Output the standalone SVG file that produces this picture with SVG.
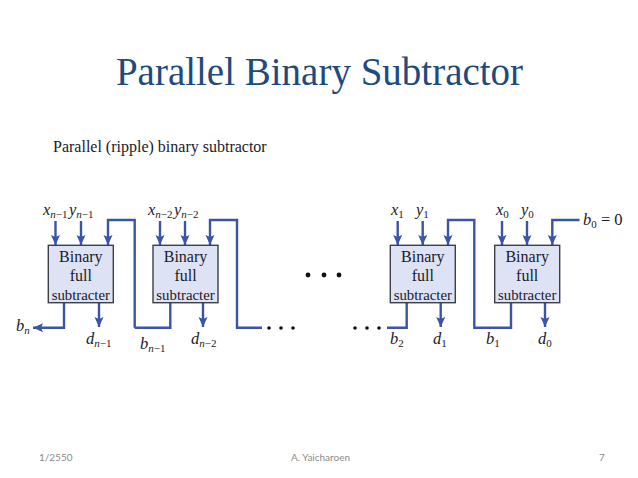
<svg xmlns="http://www.w3.org/2000/svg" width="638" height="478" viewBox="0 0 638 478">
<style>
.t{font-family:"Liberation Serif","Times New Roman",serif;fill:#1a1a2a}
.box rect{fill:#dde3f5;stroke:#3a3f4a;stroke-width:1.4}
.box text{font-size:16px;text-anchor:middle}
.box text.n{font-size:14.8px}
.w{fill:none;stroke:#3a55a8;stroke-width:2.4}
.a{marker-end:url(#ah)}
.i{font-style:italic;font-size:16.5px}
.s{font-size:11px;font-style:italic}
.u{font-size:11px;font-style:normal}
.f{font-family:"Lato","Open Sans",sans-serif;font-size:10px;fill:#8b8b8b}
</style>
<defs>
<marker id="ah" markerUnits="userSpaceOnUse" markerWidth="11" markerHeight="10" refX="10" refY="4.5" orient="auto"><path d="M0 0L10 4.5L0 9L2 4.5Z" fill="#3a55a8"/></marker>
</defs>
<rect width="638" height="478" fill="#fff"/>
<text id="title" x="319.5" y="85" text-anchor="middle" font-family="'Liberation Serif',serif" font-size="39" fill="#1f4a7d">Parallel Binary Subtractor</text>
<text id="subtitle" class="t" x="53" y="152" font-size="16" fill="#111">Parallel (ripple) binary subtractor</text>
<g id="connectors">
<path class="w a" d="M55.5 221V245"/><path class="w a" d="M81 221V245"/>
<path class="w a" d="M134.7 327.7V220H108V245"/>
<path class="w" d="M134.7 327.7H170.3V303"/>
<path class="w a" d="M64 303V327.7H33"/><path class="w a" d="M99 303V327"/>
<path class="w a" d="M160 221V245"/><path class="w a" d="M185 221V245"/>
<path class="w a" d="M262 327.7H237V220H210V245"/><path class="w a" d="M203 303V327"/>
<path class="w a" d="M397.7 221V245"/><path class="w a" d="M422.7 221V245"/>
<path class="w" d="M387 327.7H406.7V303"/><path class="w a" d="M440.7 303V327"/>
<path class="w a" d="M511 303V327.7H474.3V220H448V245"/>
<path class="w a" d="M502 221V245"/><path class="w a" d="M527 221V245"/>
<path class="w a" d="M579.5 220H552.3V245"/><path class="w a" d="M545 303V327"/>
</g>
<g id="node1" class="box t"><rect x="48.3" y="245.3" width="65" height="57.4"/><text x="80.8" y="262">Binary</text><text x="80.8" y="280.5">full</text><text class="n" x="80.8" y="299.5">subtracter</text></g>
<g id="node2" class="box t"><rect x="153" y="245.3" width="65" height="57.4"/><text x="185.5" y="262">Binary</text><text x="185.5" y="280.5">full</text><text class="n" x="185.5" y="299.5">subtracter</text></g>
<g id="node3" class="box t"><rect x="390.3" y="245.3" width="65" height="57.4"/><text x="422.8" y="262">Binary</text><text x="422.8" y="280.5">full</text><text class="n" x="422.8" y="299.5">subtracter</text></g>
<g id="node4" class="box t"><rect x="494.7" y="245.3" width="65" height="57.4"/><text x="527.2" y="262">Binary</text><text x="527.2" y="280.5">full</text><text class="n" x="527.2" y="299.5">subtracter</text></g>
<g id="dots" fill="#111"><circle cx="269" cy="328" r="1.8"/><circle cx="281" cy="328" r="1.8"/><circle cx="293" cy="328" r="1.8"/><circle cx="355" cy="328" r="1.8"/><circle cx="367" cy="328" r="1.8"/><circle cx="379" cy="328" r="1.8"/><circle cx="308" cy="275" r="2.4"/><circle cx="324" cy="275" r="2.4"/><circle cx="339" cy="275" r="2.4"/></g>
<g id="labels" class="t">
<text x="43" y="215" class="i">x<tspan class="s" dy="3">n</tspan><tspan class="u">−1</tspan></text>
<text x="69" y="215" class="i">y<tspan class="s" dy="3">n</tspan><tspan class="u">−1</tspan></text>
<text x="148" y="215" class="i">x<tspan class="s" dy="3">n</tspan><tspan class="u">−2</tspan></text>
<text x="174" y="215" class="i">y<tspan class="s" dy="3">n</tspan><tspan class="u">−2</tspan></text>
<text x="391" y="215" class="i">x<tspan class="u" dy="3">1</tspan></text>
<text x="416" y="215" class="i">y<tspan class="u" dy="3">1</tspan></text>
<text x="496" y="215" class="i">x<tspan class="u" dy="3">0</tspan></text>
<text x="521" y="215" class="i">y<tspan class="u" dy="3">0</tspan></text>
<text x="583" y="225" class="i">b<tspan class="u" dy="3">0</tspan><tspan dy="-3" font-style="normal"> = 0</tspan></text>
<text x="16" y="331" class="i">b<tspan class="s" dy="3">n</tspan></text>
<text x="86" y="344" class="i">d<tspan class="s" dy="3">n</tspan><tspan class="u">−1</tspan></text>
<text x="140" y="349" class="i">b<tspan class="s" dy="3">n</tspan><tspan class="u">−1</tspan></text>
<text x="191" y="344" class="i">d<tspan class="s" dy="3">n</tspan><tspan class="u">−2</tspan></text>
<text x="390" y="344" class="i">b<tspan class="u" dy="3">2</tspan></text>
<text x="433" y="344" class="i">d<tspan class="u" dy="3">1</tspan></text>
<text x="486" y="344" class="i">b<tspan class="u" dy="3">1</tspan></text>
<text x="538" y="344" class="i">d<tspan class="u" dy="3">0</tspan></text>
</g>
<g id="footer">
<text class="f" x="39" y="461">1/2550</text>
<text class="f" x="320.5" y="461" text-anchor="middle">A. Yaicharoen</text>
<text class="f" x="599" y="461">7</text>
</g>
</svg>
